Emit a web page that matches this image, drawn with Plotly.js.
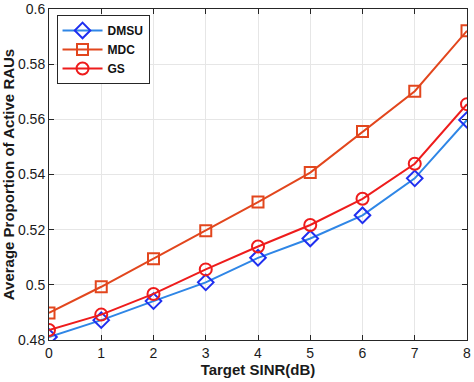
<!DOCTYPE html>
<html><head><meta charset="utf-8">
<script src="https://cdn.plot.ly/plotly-3.0.1.min.js"></script>
<style>html,body{margin:0;padding:0;background:#fff}#chart{width:474px;height:382px}</style>
</head><body><div id="chart"></div>
<script>
const sinr = [0, 1, 2, 3, 4, 5, 6, 7, 8];
const dmsu = [0.4811, 0.4872, 0.4941, 0.5009, 0.5098, 0.5168, 0.5252, 0.5386, 0.5598];
const mdc  = [0.4898, 0.4993, 0.5095, 0.5196, 0.5300, 0.5407, 0.5556, 0.5702, 0.5921];
const gs   = [0.4836, 0.4892, 0.4967, 0.5056, 0.5139, 0.5217, 0.5312, 0.5439, 0.5655];
const yTicks = [0.48, 0.5, 0.52, 0.54, 0.56, 0.58, 0.6];
const xTicks = [0, 1, 2, 3, 4, 5, 6, 7, 8];

const FONT = 'Arial, Liberation Sans, sans-serif';
const traces = [
  {x: sinr, y: dmsu, name: 'DMSU', mode: 'lines+markers',
   line: {color: '#2f86e6', width: 2},
   marker: {symbol: 'diamond-open', size: 12, color: '#1f2ff0', line: {width: 2, color: '#1f2ff0'}}},
  {x: sinr, y: mdc, name: 'MDC', mode: 'lines+markers',
   line: {color: '#e2461d', width: 2},
   marker: {symbol: 'square-open', size: 11, color: '#e2461d', line: {width: 2, color: '#e2461d'}}},
  {x: sinr, y: gs, name: 'GS', mode: 'lines+markers',
   line: {color: '#ee1c1c', width: 2},
   marker: {symbol: 'circle-open', size: 12, color: '#ee1c1c', line: {width: 2, color: '#ee1c1c'}}}
];

const axisCommon = {
  showline: true, linecolor: '#262626', linewidth: 1, mirror: 'ticks',
  ticks: 'inside', ticklen: 5, tickcolor: '#262626',
  showgrid: true, gridcolor: '#e6e6e6', gridwidth: 1, zeroline: false,
  ticklabeloverflow: 'allow',
  tickfont: {family: FONT, size: 14, color: '#1a1a1a'}
};

const layout = {
  width: 474, height: 382,
  margin: {l: 49, r: 7, t: 9, b: 42},
  paper_bgcolor: '#fff', plot_bgcolor: '#fff',
  showlegend: true,
  legend: {x: 0.018, y: 0.982, xanchor: 'left', yanchor: 'top',
    bgcolor: '#fff', bordercolor: '#262626', borderwidth: 1,
    font: {family: FONT, size: 12, color: '#111', weight: 'bold'},
    tracegroupgap: 0, itemwidth: 40},
  xaxis: Object.assign({}, axisCommon, {
    range: [0, 8], tickvals: xTicks, ticktext: xTicks.map(String),
    title: {text: '<b>Target SINR(dB)</b>', font: {family: FONT, size: 15, color: '#1a1a1a'}, standoff: 4}
  }),
  yaxis: Object.assign({}, axisCommon, {
    range: [0.48, 0.6], tickvals: yTicks, ticktext: yTicks.map(String),
    title: {text: '<b>Average Proportion of Active RAUs</b>', font: {family: FONT, size: 15, color: '#1a1a1a'}, standoff: 5}
  })
};

Plotly.newPlot('chart', traces, layout, {displayModeBar: false, staticPlot: true});
</script></body></html>
